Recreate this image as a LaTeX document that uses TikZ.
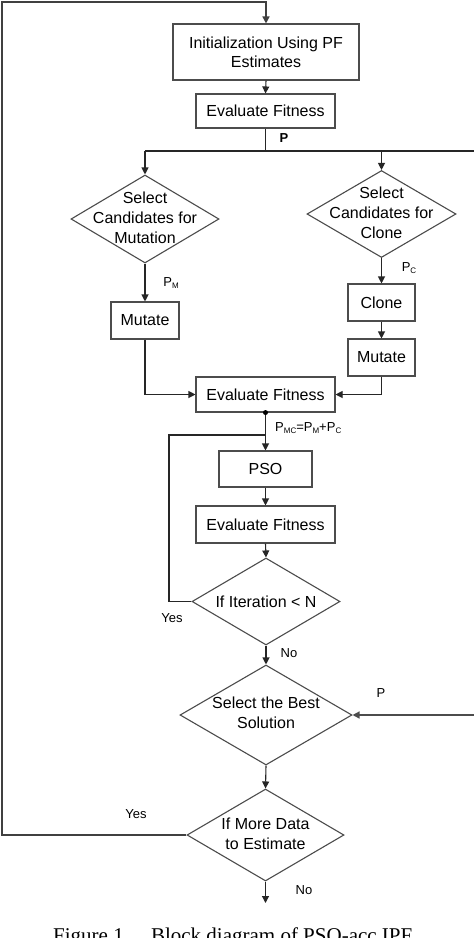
\documentclass[tikz,border=0pt]{standalone}
\usepackage{fontspec}
\setmainfont{Liberation Sans}
\newfontfamily\capfont{Liberation Serif}
\usetikzlibrary{shapes.geometric,arrows.meta}
\newcommand{\lowsub}[1]{{\fontsize{8}{8}\selectfont\raisebox{-1.5pt}{#1}}}
\tikzset{
  box/.style={draw=black!70,line width=1.1pt,fill=white,rectangle,inner sep=0pt,
    font=\fontsize{16}{19}\selectfont,align=center},
  dia/.style={draw=black!70,line width=1.1pt,diamond,inner sep=0pt},
  diatext/.style={font=\fontsize{16}{20}\selectfont,align=center,inner sep=0pt},
  conn/.style={draw=black!85,line width=1.1pt},
  arr/.style={conn,-{Triangle[length=7pt,width=7pt]}},
  lbl/.style={font=\fontsize{13}{13}\selectfont,inner sep=0pt},
}
\begin{document}
\begin{tikzpicture}[x=1pt,y=1pt]
\useasboundingbox (0,0) rectangle (474,-938);
\fill[white] (0,0) rectangle (474,-938);

% boxes
\node[box,minimum width=186pt,minimum height=56pt] (init) at (266,-52) {Initialization Using PF\\Estimates};
\node[box,minimum width=139pt,minimum height=34pt] (ef1) at (265.5,-111) {Evaluate Fitness};
\node[dia,minimum width=148pt,minimum height=88pt] (msel) at (145,-219) {};
\node[diatext] (mselt) at (145,-218) {Select\\Candidates for\\Mutation};
\node[dia,minimum width=149pt,minimum height=87pt] (csel) at (381.5,-214) {};
\node[diatext] (cselt) at (381.5,-213) {Select\\Candidates for\\Clone};
\node[box,minimum width=68pt,minimum height=37pt] (mut1) at (145,-320.5) {Mutate};
\node[box,minimum width=67pt,minimum height=37pt] (clone) at (381.5,-302.5) {Clone};
\node[box,minimum width=67pt,minimum height=37pt] (mut2) at (381.5,-357.5) {Mutate};
\node[box,minimum width=139pt,minimum height=35pt] (ef2) at (265.5,-394.5) {Evaluate Fitness};
\node[box,minimum width=93pt,minimum height=36pt] (pso) at (265.5,-469) {PSO};
\node[box,minimum width=139pt,minimum height=37pt] (ef3) at (265.5,-524.5) {Evaluate Fitness};
\node[dia,minimum width=148pt,minimum height=87pt] (iter) at (266,-601.5) {};
\node[diatext] (itert) at (266,-601.5) {If Iteration < N};
\node[dia,minimum width=172pt,minimum height=100pt] (best) at (266,-715) {};
\node[diatext] (bestt) at (266,-713) {Select the Best\\Solution};
\node[dia,minimum width=157pt,minimum height=92pt] (more) at (265.5,-835) {};
\node[diatext] (moret) at (265.5,-834) {If More Data\\to Estimate};

% coordinates
\coordinate (lb) at (2,-835);
\coordinate (lt) at (2,-2);
\coordinate (j1) at (265.5,-151);
\coordinate (rt) at (478,-151);
\coordinate (rb) at (478,-715);
\coordinate (jl) at (265.5,-435);
\coordinate (ll) at (169,-601.5);
\coordinate (fin) at (265.5,-903);

% connectors
\draw[arr,line width=1.6pt,draw=black!75] (more.west) -- (lb) -- (lt) -| (init.north);
\draw[arr] (init.south) -- (ef1.north);
\draw[conn] (ef1.south) -- (j1);
\draw[conn] (msel.north |- j1) -- (rt) -- (rb);
\draw[arr] (msel.north |- j1) -- (msel.north);
\draw[arr] (csel.north |- j1) -- (csel.north);
\draw[arr,line width=1.5pt,draw=black!70] (rb) -- (best.east);
\draw[arr] (msel.south) -- (mut1.north);
\draw[arr] (csel.south) -- (clone.north);
\draw[arr] (clone.south) -- (mut2.north);
\draw[arr] (mut1.south) |- (ef2.west);
\draw[arr] (mut2.south) |- (ef2.east);
\draw[arr] (ef2.south) -- (pso.north);
\fill[black] (ef2.south) circle (2.5pt);
\draw[conn] (iter.west) -- (ll) |- (jl);
\draw[arr] (pso.south) -- (ef3.north);
\draw[arr] (ef3.south) -- (iter.north);
\draw[arr] (iter.south) -- (best.north);
\draw[arr] (best.south) -- (more.north);
\draw[arr] (more.south) -- (fin);

% labels
\node[lbl,font=\bfseries\fontsize{13}{13}\selectfont] (lp1) at (284,-138) {P};
\node[lbl] (lpm) at (171,-283) {P\lowsub{M}};
\node[lbl] (lpc) at (409,-268) {P\lowsub{C}};
\node[lbl,anchor=west] (lpmc) at (275,-428) {P\lowsub{MC}=P\lowsub{M}+P\lowsub{C}};
\node[lbl] (ly1) at (172,-618) {Yes};
\node[lbl] (ln1) at (289,-653) {No};
\node[lbl] (lp2) at (381,-693) {P};
\node[lbl] (ly2) at (136,-814) {Yes};
\node[lbl] (ln2) at (304,-890) {No};

% caption (cut off by the page edge as in the reference)
\node[anchor=base west,inner sep=0pt,font=\capfont\fontsize{21}{21}\selectfont] (cap) at (53,-942) {Figure 1.\hspace{22pt}Block diagram of PSO-acc IPF};
\end{tikzpicture}
\end{document}
